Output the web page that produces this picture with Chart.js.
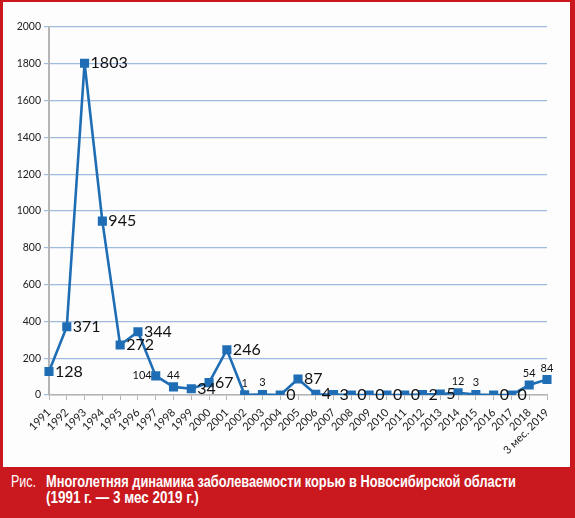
<!DOCTYPE html>
<html><head><meta charset="utf-8">
<script src="https://cdn.jsdelivr.net/npm/chart.js@4"></script>
<style>
html,body{margin:0;padding:0;background:#fff;}
#frame{position:relative;width:575px;height:518px;background:#c9191f;overflow:hidden;}
#panel{position:absolute;left:3px;top:2px;width:567px;height:465px;background:#fcfdfc;}
.cl{position:absolute;white-space:nowrap;color:#fff;font-family:"Liberation Sans",Arial,sans-serif;font-size:16.5px;line-height:16.5px;transform-origin:0 0;}
.b{font-weight:bold;}
</style></head>
<body>
<div id="frame">
  <div id="panel"><canvas id="c"></canvas></div>
  <span class="cl" id="cp" style="left:11px;top:473px;">Рис.</span>
  <span class="cl b" id="c1" style="left:46px;top:473px;">Многолетняя динамика заболеваемости корью в Новосибирской области</span>
  <span class="cl b" id="c2" style="left:46px;top:489px;">(1991 г. — 3 мес 2019 г.)</span>
</div>
<script>
const categories = ['1991','1992','1993','1994','1995','1996','1997','1998','1999','2000','2001','2002','2003','2004','2005','2006','2007','2008','2009','2010','2011','2012','2013','2014','2015','2016','2017','2018','3 мес. 2019'];
const cases = [128,371,1803,945,272,344,104,44,34,67,246,1,3,0,87,4,3,0,0,0,0,2,5,12,3,0,0,54,84];
const yTicks = [0,200,400,600,800,1000,1200,1400,1600,1800,2000];

// label placement per point: 'r' = right (large), 'a' = above (small), 'l' = left (small)
const labelPlacement = ['r','r','r','r','r','r','l','a','r','r','r','a','a','r','r','r','r','r','r','r','r','r','r','a','a','r','r','a','a'];

// fit condensed caption lines to their measured widths
[['c1',470],['c2',153],['cp',25]].forEach(([id,w]) => {
  const el = document.getElementById(id);
  el.style.transform = 'scaleX(' + (w / el.offsetWidth) + ')';
});

const labelPlugin = {
  id: 'valueLabels',
  afterDatasetsDraw(chart) {
    const ctx = chart.ctx;
    const meta = chart.getDatasetMeta(0);
    ctx.save();
    ctx.fillStyle = '#111';
    meta.data.forEach((pt, i) => {
      const v = String(chart.data.datasets[0].data[i]);
      const p = labelPlacement[i];
      if (p === 'r') {
        ctx.font = '16px Lato';
        ctx.textAlign = 'left'; ctx.textBaseline = 'middle';
        ctx.fillText(v, pt.x + 6, pt.y);
      } else if (p === 'a') {
        ctx.font = '11px Lato';
        ctx.textAlign = 'center'; ctx.textBaseline = 'bottom';
        ctx.fillText(v, pt.x, pt.y - 6);
      } else if (p === 'l') {
        ctx.font = '11px Lato';
        ctx.textAlign = 'right'; ctx.textBaseline = 'middle';
        ctx.fillText(v, pt.x - 4, pt.y);
      }
    });
    ctx.restore();
  }
};

new Chart(document.getElementById('c'), {
  type: 'line',
  data: {
    labels: categories,
    datasets: [{
      data: cases,
      borderColor: '#1f6db5',
      backgroundColor: '#1f6db5',
      borderWidth: 2.6,
      tension: 0,
      pointStyle: 'rect',
      pointRadius: 4.6,
      pointHoverRadius: 4.6,
      fill: false
    }]
  },
  options: {
    responsive: true,
    maintainAspectRatio: false,
    animation: false,
    events: [],
    layout: { padding: { top: 25, right: 23, left: 0, bottom: 0 } },
    plugins: { legend: { display: false }, tooltip: { enabled: false } },
    scales: {
      x: {
        offset: false,
        grid: { drawOnChartArea: false, drawTicks: true, tickLength: 5, color: '#b5b5b5', lineWidth: 1 },
        border: { color: '#b5b5b5', width: 1.5 },
        ticks: { minRotation: 45, maxRotation: 45, autoSkip: false, color: '#1a1a1a', font: { family: 'Lato', size: 11 }, padding: 6 },
        afterFit(scale) { scale.height = 72; }
      },
      y: {
        min: 0, max: 2000,
        afterBuildTicks(scale) { scale.ticks = yTicks.map(v => ({ value: v })); },
        grid: { color: '#9fbce0', lineWidth: 1.2, tickLength: 5 },
        border: { color: '#b5b5b5', width: 2 },
        ticks: { color: '#222', font: { family: 'Lato', size: 10.5 }, padding: 3, callback: v => String(v) },
        afterFit(scale) { scale.width = 46; }
      }
    }
  },
  plugins: [labelPlugin]
});
</script>
</body></html>
